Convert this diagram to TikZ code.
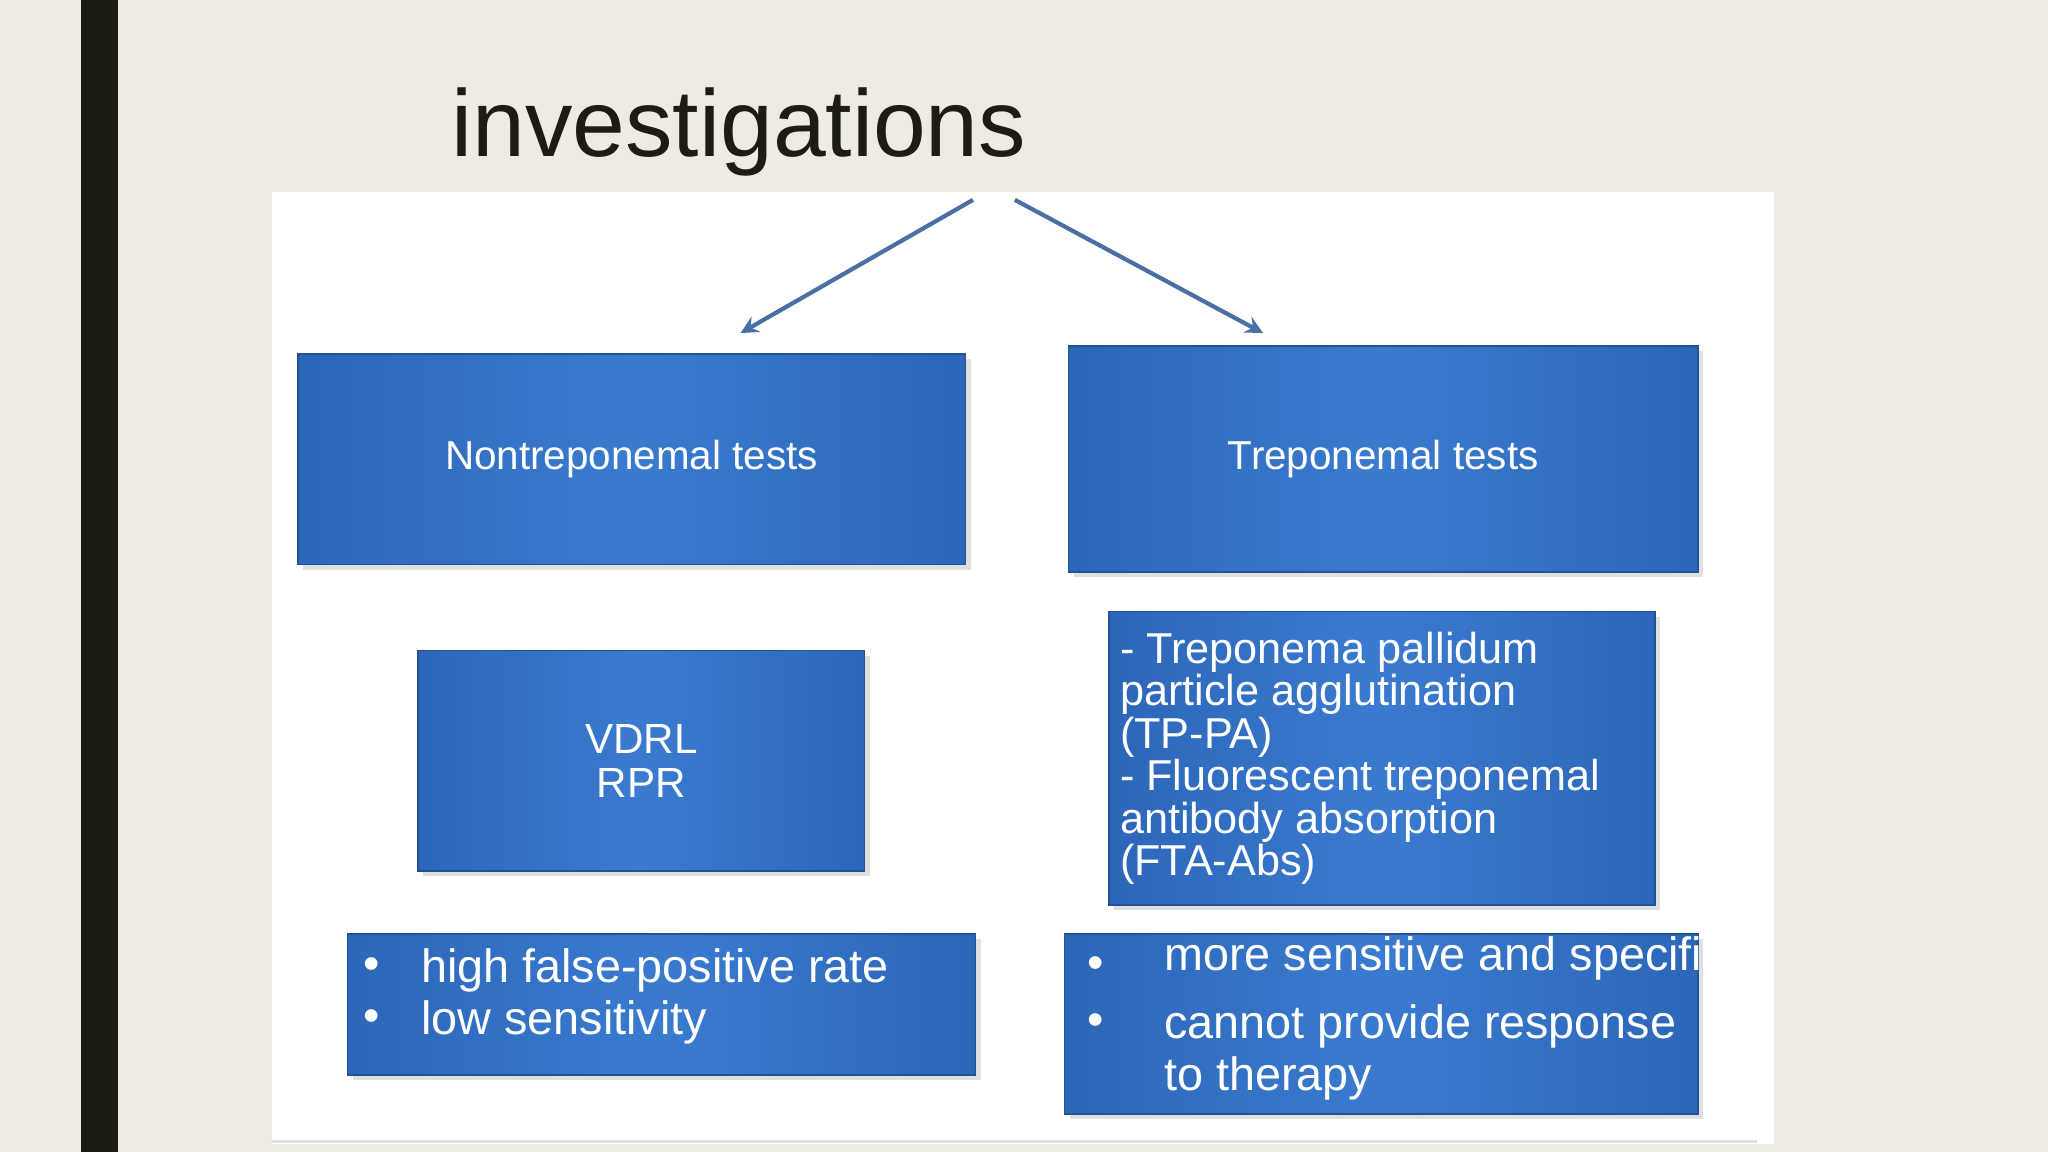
\documentclass[tikz,border=0pt]{standalone}
\usepackage{fontspec}
\setmainfont{Liberation Sans}
\usetikzlibrary{shadows}
\definecolor{slide}{HTML}{EEEBE4}
\definecolor{barblack}{HTML}{1C1C14}
\definecolor{boxblue}{HTML}{2C66B8}
\definecolor{boxmid}{HTML}{3A7BD0}
\definecolor{arrowblue}{HTML}{4A6FA5}
\def\u{0.01306}
\tikzset{
  box/.style={draw=boxblue!80!black, line width=0.4pt, left color=boxblue, right color=boxblue, middle color=boxmid,
    drop shadow={opacity=0.25, shadow xshift=1.5pt, shadow yshift=-1.5pt},
    text=white, font=\fontsize{11.5}{13}\selectfont, align=center},
  txt/.style={text=white, inner sep=0pt, anchor=base west},
  link/.style={arrowblue, line width=1.2pt, ->, >={stealth}}
}
\begin{document}
\begin{tikzpicture}[x=\u cm, y=-\u cm]
    \fill[slide](0,0)rectangle(1568,882);
    \fill[barblack](62,0)rectangle(90,882);
    \fill[white](208,147)rectangle(1358,876);
    \draw[gray!25, line width=1pt](208,874)--(1345,874);

    \node[anchor=base west, inner sep=0pt, font=\fontsize{27}{30}\selectfont, text=barblack] (title) at (345,120) {investigations};

    \coordinate (topl) at (745,153);
    \coordinate (topr) at (777,153);
    \coordinate (endl) at (567,255);
    \coordinate (endr) at (967,255);
    \draw[link](topl)--(endl);
    \draw[link](topr)--(endr);

    \node[box, minimum width=511*\u cm, minimum height=161*\u cm] (nontrep) at (483.5,351.5) {Nontreponemal tests};
    \node[box, minimum width=482*\u cm, minimum height=173*\u cm] (trep) at (1059,351.5) {Treponemal tests};
    \node[box, minimum width=342*\u cm, minimum height=169*\u cm, font=\fontsize{12}{12.5}\selectfont] (vdrl) at (491,582.5) {VDRL\\RPR};
    \node[box, minimum width=418*\u cm, minimum height=225*\u cm] (tppa) at (1058,580.5) {};
    \node[box, minimum width=481*\u cm, minimum height=108*\u cm] (consl) at (506.5,769) {};
    \node[box, minimum width=485*\u cm, minimum height=138*\u cm] (consr) at (1057.5,784) {};

    % treponemal test names
    \begin{scope}[every node/.style={txt, font=\fontsize{12.3}{13}\selectfont}]
    \node (t1) at (857,508) {- Treponema pallidum};
    \node (t2) at (857,540.5) {particle agglutination};
    \node (t3) at (857,573) {(TP-PA)};
    \node (t4) at (857,605.5) {- Fluorescent treponemal};
    \node (t5) at (857,638) {antibody absorption};
    \node (t6) at (857,670.5) {(FTA-Abs)};
    \end{scope}

    % bullet lists
    \begin{scope}[every node/.style={txt, font=\fontsize{13.3}{14}\selectfont}]
    \node (bl1) at (278,750) {•};
    \node (ll1) at (322,752) {high false-positive rate};
    \node (bl2) at (278,790) {•};
    \node (ll2) at (322,792) {low sensitivity};
    \node (br1) at (832,749) {•};
    \node (rr1) at (891,743) {more sensitive and specific};
    \node (br2) at (832,793) {•};
    \node (rr2) at (891,795) {cannot provide response};
    \node (rr3) at (891,835) {to therapy};
    \end{scope}
\end{tikzpicture}
\end{document}
